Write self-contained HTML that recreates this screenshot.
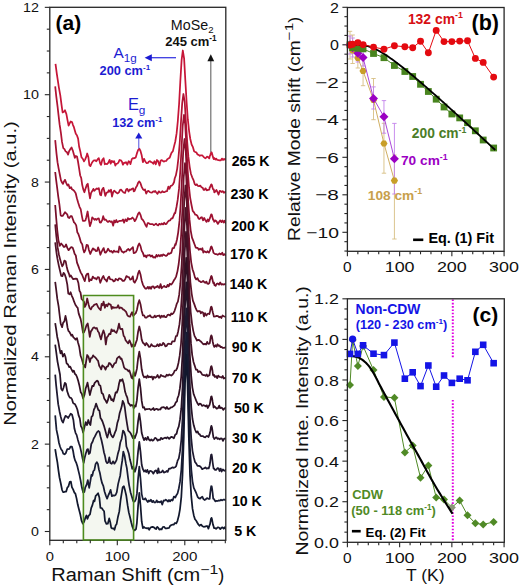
<!DOCTYPE html>
<html><head><meta charset="utf-8"><style>
html,body{margin:0;padding:0;background:#fff;}
svg{display:block;font-family:"Liberation Sans", sans-serif;}
</style></head><body>
<svg width="520" height="586" viewBox="0 0 520 586">
<rect x="0" y="0" width="520" height="586" fill="#fff"/>
<rect x="83.4" y="295.5" width="50.2" height="244.8" fill="rgb(244,247,240)" stroke="none"/>
<clipPath id="clipa"><rect x="49.8" y="7.3" width="176" height="533"/></clipPath>
<g clip-path="url(#clipa)">
<path d="M55.5,63.8 L56.8,73.7 L57.7,79.6 L58.9,87.6 L60.3,95.4 L61.5,104.7 L62.6,112.5 L63.9,111.8 L65.0,110.2 L66.4,114.1 L67.5,120.1 L68.6,125.7 L69.5,123.7 L70.7,121.5 L72.0,122.0 L73.0,125.1 L74.0,127.4 L74.9,130.7 L75.8,133.8 L76.9,135.2 L78.1,138.6 L79.1,146.5 L80.3,151.4 L81.5,157.3 L82.9,159.0 L84.0,161.4 L85.1,159.6 L86.3,156.7 L87.2,153.5 L88.4,157.3 L89.4,165.1 L90.4,166.1 L91.8,163.0 L93.1,161.1 L94.2,160.3 L95.2,160.3 L96.3,161.2 L97.7,159.2 L98.8,158.1 L100.2,163.6 L101.1,164.9 L102.3,159.7 L103.6,158.2 L104.8,164.3 L105.8,163.7 L107.0,164.2 L108.4,162.7 L109.6,159.8 L110.7,163.7 L111.8,160.8 L113.1,162.2 L114.1,161.1 L115.3,165.6 L116.3,163.8 L117.6,163.5 L118.6,162.2 L119.5,160.0 L120.9,160.4 L121.9,161.5 L122.9,164.7 L124.1,162.7 L125.1,163.0 L126.0,162.1 L127.3,164.6 L128.6,161.2 L129.6,162.0 L130.5,164.1 L131.8,159.1 L132.9,158.1 L133.7,158.3 L134.9,157.9 L135.7,157.4 L136.9,153.4 L138.1,150.0 L139.3,148.6 L140.5,151.0 L141.7,155.3 L142.9,162.1 L144.1,158.8 L145.3,161.5 L146.7,163.2 L147.9,163.0 L148.9,161.5 L150.0,161.2 L151.1,162.1 L152.2,162.5 L153.3,163.8 L154.5,161.2 L155.8,164.3 L157.0,160.0 L158.1,161.1 L159.5,165.5 L160.7,160.5 L161.8,160.1 L162.9,161.0 L164.1,161.6 L165.2,161.0 L166.2,160.9 L167.3,159.3 L168.3,158.6 L169.7,157.8 L170.6,155.1 L171.6,152.7 L172.9,151.1 L174.1,146.1 L175.3,141.5 L176.6,133.4 L177.8,121.3 L179.1,103.9 L180.3,81.7 L181.6,60.1 L182.8,50.5 L184.1,58.4 L185.3,79.9 L186.6,102.0 L187.8,119.2 L189.1,131.1 L190.3,139.0 L191.6,144.5 L192.8,146.8 L194.1,151.2 L195.4,152.1 L196.4,152.3 L197.4,154.4 L198.6,154.8 L199.8,155.8 L200.8,155.4 L202.2,155.3 L203.5,156.8 L204.5,157.7 L205.6,158.3 L206.9,156.7 L208.1,157.1 L209.3,158.4 L209.8,156.0 L210.3,155.2 L210.8,153.3 L211.3,152.2 L211.8,152.7 L212.3,154.5 L212.8,156.6 L213.3,158.2 L213.8,159.2 L214.3,158.0 L215.4,159.6 L216.3,158.7 L217.3,160.0 L218.7,160.1 L219.6,160.4 L220.9,160.3 L222.0,158.6 L223.0,160.0 L224.1,158.9 L225.0,159.7 L225.9,158.6" fill="none" stroke="rgb(198,22,56)" stroke-width="1.75" stroke-linejoin="round"/>
<path d="M55.2,86.4 L56.3,96.7 L57.6,106.8 L58.5,114.9 L59.6,124.4 L60.9,132.9 L62.0,141.9 L63.3,148.1 L64.5,149.1 L65.6,151.5 L66.7,151.8 L68.1,154.6 L69.1,151.3 L70.5,148.9 L71.6,147.5 L72.8,150.6 L73.9,154.4 L74.8,157.9 L75.8,156.0 L77.0,156.5 L78.0,161.5 L79.1,168.3 L80.2,175.5 L81.2,177.8 L82.2,184.8 L83.2,189.1 L84.4,192.3 L85.7,188.1 L86.9,184.6 L87.8,183.8 L88.8,191.2 L90.0,198.3 L91.1,192.9 L92.1,191.3 L93.4,188.8 L94.3,190.8 L95.6,189.5 L96.9,188.4 L97.9,189.0 L98.8,188.2 L100.1,194.7 L101.1,195.3 L102.0,189.8 L103.4,187.8 L104.3,191.2 L105.3,195.8 L106.6,192.6 L107.7,192.5 L108.9,190.2 L109.8,191.7 L111.0,189.7 L112.0,196.6 L113.2,192.0 L114.3,190.6 L115.3,191.8 L116.6,192.7 L117.7,193.4 L118.9,192.4 L120.1,189.9 L121.2,189.7 L122.6,191.6 L123.9,192.7 L125.0,193.0 L126.3,189.3 L127.3,188.9 L128.5,191.5 L129.9,189.4 L130.8,189.9 L131.9,188.9 L133.2,188.4 L133.7,191.4 L134.6,191.0 L135.9,187.5 L136.9,186.1 L138.1,182.9 L139.3,181.4 L140.5,183.3 L141.7,186.9 L142.9,189.2 L144.1,190.1 L145.0,189.4 L146.2,193.6 L147.4,191.3 L148.5,190.9 L149.6,192.0 L150.7,192.5 L151.9,192.6 L153.3,191.3 L154.3,191.8 L155.2,191.0 L156.3,192.5 L157.5,193.8 L158.9,191.3 L160.3,192.7 L161.3,192.5 L162.3,191.2 L163.3,192.1 L164.7,192.1 L165.7,191.4 L167.0,191.2 L168.4,186.6 L169.4,188.8 L170.7,185.8 L171.7,185.7 L172.9,184.5 L174.1,182.0 L174.7,178.5 L175.9,175.3 L177.2,168.6 L178.4,158.4 L179.7,143.3 L180.9,123.3 L182.2,103.1 L183.4,94.0 L184.7,101.7 L185.9,121.8 L187.2,141.8 L188.4,156.9 L189.7,167.1 L190.9,173.7 L192.2,177.3 L193.4,179.8 L194.7,184.1 L195.8,185.2 L196.8,184.3 L197.8,185.9 L199.1,186.1 L200.4,185.6 L201.5,187.4 L202.6,187.5 L203.5,189.8 L204.6,189.8 L205.5,188.3 L206.7,190.3 L208.1,189.9 L209.3,189.7 L209.8,187.0 L210.3,186.9 L210.8,185.2 L211.3,184.3 L211.8,184.8 L212.3,186.6 L212.8,188.6 L213.3,189.5 L213.8,189.4 L214.3,192.4 L215.3,191.5 L216.4,190.0 L217.4,191.8 L218.6,194.6 L219.8,190.8 L220.8,191.3 L221.8,192.0 L222.7,191.1 L223.9,192.8 L225.1,191.9 L225.9,192.1" fill="none" stroke="rgb(176,20,52)" stroke-width="1.75" stroke-linejoin="round"/>
<path d="M55.2,140.2 L56.5,153.6 L57.5,162.2 L58.5,167.9 L59.9,175.0 L60.9,180.2 L62.0,182.5 L63.0,183.9 L64.0,181.4 L65.0,179.8 L66.3,183.1 L67.4,185.5 L68.5,184.5 L69.7,188.2 L71.1,187.2 L72.0,189.3 L73.2,190.0 L74.4,191.1 L75.7,193.2 L76.9,198.3 L78.2,202.8 L79.6,207.1 L80.7,209.2 L82.0,216.6 L82.9,220.9 L84.3,220.8 L85.4,220.5 L86.3,217.2 L87.6,211.5 L88.7,219.0 L89.9,226.2 L91.2,222.4 L92.2,217.3 L93.4,218.5 L94.5,219.8 L95.4,218.9 L96.5,219.8 L97.7,218.5 L98.8,218.4 L99.9,222.4 L100.9,222.6 L102.2,220.2 L103.2,216.2 L104.4,219.8 L105.7,219.5 L107.0,221.1 L107.9,222.0 L109.3,220.9 L110.5,221.8 L111.9,221.4 L113.2,225.7 L114.2,220.5 L115.2,222.4 L116.3,220.0 L117.2,222.3 L118.4,221.6 L119.5,220.8 L120.8,220.8 L122.1,220.6 L123.0,219.4 L124.1,222.7 L125.4,219.3 L126.8,221.2 L127.9,218.1 L128.9,219.6 L130.0,218.8 L131.1,218.8 L132.4,217.5 L133.7,218.8 L134.7,221.2 L135.9,219.5 L136.9,217.0 L138.1,213.9 L139.3,212.4 L140.5,214.8 L141.7,218.9 L142.9,220.0 L144.1,221.9 L145.2,224.5 L146.6,226.9 L147.6,223.1 L148.7,223.1 L150.0,224.1 L151.4,224.1 L152.7,224.1 L153.8,225.1 L154.7,224.7 L156.0,223.6 L157.2,225.0 L158.2,225.4 L159.3,223.8 L160.7,224.6 L161.7,223.5 L163.1,224.4 L164.2,222.7 L165.4,224.1 L166.5,223.8 L167.9,221.6 L169.2,220.5 L170.2,220.3 L171.4,218.4 L172.6,218.3 L173.7,215.4 L174.7,212.8 L175.2,213.2 L176.5,207.0 L177.7,199.9 L179.0,188.9 L180.2,172.2 L181.5,149.4 L182.7,125.8 L184.0,114.8 L185.2,124.4 L186.5,147.9 L187.7,170.6 L189.0,187.2 L190.2,198.0 L191.5,205.0 L192.7,210.9 L194.0,212.4 L195.3,214.7 L196.4,214.8 L197.4,215.8 L198.6,218.6 L199.6,219.0 L200.8,217.6 L201.8,217.2 L203.1,220.3 L204.2,218.0 L205.2,219.9 L206.6,221.9 L207.7,219.4 L208.7,221.3 L209.7,218.7 L210.2,217.6 L210.7,215.7 L211.2,214.4 L211.7,214.6 L212.2,216.3 L212.7,218.4 L213.2,219.9 L213.7,220.1 L214.2,221.8 L215.4,220.4 L216.6,221.5 L217.8,223.9 L219.1,221.9 L220.3,220.4 L221.3,222.2 L222.4,220.4 L223.6,222.5 L224.6,220.7 L225.6,223.0 L225.9,222.4" fill="none" stroke="rgb(160,18,50)" stroke-width="1.75" stroke-linejoin="round"/>
<path d="M55.2,172.0 L56.1,179.6 L57.1,187.4 L58.3,196.8 L59.4,204.4 L60.7,215.5 L61.8,216.0 L62.8,215.8 L63.9,214.1 L65.0,212.2 L66.2,213.4 L67.2,214.3 L68.2,217.5 L69.3,218.1 L70.7,216.0 L71.7,216.0 L72.8,219.0 L74.0,222.4 L74.9,223.1 L76.2,225.4 L77.3,232.2 L78.3,233.9 L79.5,237.2 L80.9,242.3 L82.2,244.2 L83.1,248.9 L84.2,252.4 L85.3,250.4 L86.6,244.9 L87.9,245.4 L88.9,250.0 L90.3,254.0 L91.5,251.1 L92.9,248.3 L93.9,249.6 L94.8,249.3 L95.8,251.1 L97.0,250.9 L98.1,247.4 L99.3,250.5 L100.4,254.8 L101.4,252.2 L102.6,249.8 L103.7,248.1 L104.8,252.3 L105.7,252.6 L106.9,251.2 L108.1,248.7 L109.1,250.2 L110.1,251.6 L111.3,250.9 L112.6,252.7 L113.9,250.6 L114.8,251.7 L116.1,251.7 L117.2,251.3 L118.4,252.4 L119.4,246.5 L120.4,248.1 L121.7,251.4 L122.7,251.9 L123.6,252.7 L124.6,251.6 L126.0,251.4 L127.2,249.7 L128.4,248.9 L129.5,250.6 L130.9,249.1 L131.9,248.2 L132.9,247.2 L133.7,253.2 L135.1,252.6 L135.7,252.3 L136.9,250.1 L138.1,245.7 L139.3,243.5 L140.5,246.1 L141.7,250.9 L142.9,252.9 L144.1,256.4 L145.2,255.5 L146.3,257.4 L147.2,255.3 L148.6,255.4 L149.7,255.0 L150.8,256.5 L152.1,255.5 L153.3,257.5 L154.3,257.1 L155.3,257.7 L156.5,254.9 L157.4,256.5 L158.7,255.0 L159.8,256.3 L161.1,254.9 L162.0,256.0 L163.3,254.4 L164.7,255.3 L166.0,255.9 L167.1,255.2 L168.3,253.3 L169.2,253.9 L170.3,253.2 L171.3,252.9 L172.6,248.0 L174.0,248.0 L175.4,243.8 L175.7,244.8 L177.0,239.5 L178.2,232.3 L179.5,220.9 L180.7,203.3 L182.0,178.4 L183.2,151.6 L184.5,139.0 L185.7,150.4 L187.0,177.0 L188.2,201.8 L189.5,219.4 L190.7,230.6 L192.0,237.6 L193.2,240.6 L194.5,244.2 L195.8,247.6 L196.7,247.9 L197.7,247.8 L198.8,249.8 L200.1,248.7 L201.4,249.8 L202.4,248.2 L203.3,252.6 L204.3,251.2 L205.7,252.1 L206.6,252.4 L207.5,251.3 L208.9,252.6 L209.4,251.5 L209.9,250.8 L210.4,248.9 L210.9,247.1 L211.4,246.4 L211.9,247.3 L212.4,249.3 L212.9,250.1 L213.4,252.6 L213.9,253.1 L215.2,254.1 L216.6,254.2 L217.7,254.8 L218.6,254.3 L219.5,253.5 L220.9,254.4 L222.3,252.7 L223.3,255.2 L224.4,254.1 L225.4,255.0 L225.9,254.2" fill="none" stroke="rgb(135,15,45)" stroke-width="1.75" stroke-linejoin="round"/>
<path d="M55.2,205.0 L56.3,219.2 L57.3,230.6 L58.4,240.1 L59.8,245.9 L61.2,243.5 L62.5,245.0 L63.8,246.9 L64.8,246.9 L66.1,244.5 L67.3,247.9 L68.6,250.2 L70.0,248.4 L71.2,247.2 L72.6,247.6 L73.6,250.2 L74.6,253.8 L75.8,255.5 L77.0,262.7 L78.3,265.9 L79.4,269.0 L80.8,272.6 L82.1,274.7 L83.5,278.3 L84.8,281.1 L86.0,275.5 L87.2,273.8 L88.2,273.6 L89.2,281.3 L90.3,279.4 L91.5,280.2 L92.8,276.6 L94.2,278.3 L95.2,278.2 L96.5,279.4 L97.7,277.1 L98.9,277.3 L100.3,282.8 L101.4,280.0 L102.4,277.5 L103.4,276.0 L104.6,279.1 L105.8,280.0 L106.8,281.5 L107.7,278.4 L109.1,276.6 L110.1,279.2 L111.3,279.5 L112.3,279.6 L113.6,281.4 L114.8,280.9 L115.7,278.9 L116.6,279.4 L117.9,280.4 L119.0,278.3 L120.0,278.6 L121.3,279.1 L122.7,280.9 L123.9,280.9 L125.2,279.2 L126.4,276.1 L127.6,276.8 L128.9,277.2 L130.2,279.7 L131.6,278.9 L132.8,276.4 L133.7,281.7 L134.8,282.7 L136.1,280.2 L136.9,278.6 L138.1,273.4 L139.3,270.7 L140.5,274.4 L141.7,280.7 L142.9,284.6 L144.1,286.9 L145.5,288.7 L146.6,288.6 L147.9,286.8 L148.8,288.7 L149.9,287.0 L151.0,288.8 L152.0,286.7 L153.3,286.4 L154.5,288.4 L155.4,287.0 L156.3,287.0 L157.6,285.9 L158.5,287.5 L159.5,287.8 L160.6,284.1 L161.7,288.3 L163.0,286.8 L164.2,285.8 L165.1,286.8 L166.5,287.1 L167.6,284.8 L168.7,286.4 L169.9,283.7 L171.1,284.6 L172.1,283.7 L173.1,281.8 L174.1,280.0 L175.2,278.4 L176.2,276.3 L177.5,271.1 L178.7,264.0 L180.0,252.5 L181.2,234.1 L182.5,207.3 L183.7,177.5 L185.0,163.1 L186.2,176.4 L187.5,206.1 L188.7,232.8 L190.0,251.0 L191.2,262.3 L192.5,269.2 L193.7,272.6 L195.0,277.6 L196.2,279.4 L197.5,278.1 L198.6,280.7 L199.7,281.1 L201.1,282.2 L202.1,281.7 L203.1,281.0 L204.2,282.0 L205.2,282.8 L206.4,281.6 L207.3,283.6 L208.4,283.9 L209.4,282.8 L209.9,280.0 L210.4,279.1 L210.9,276.9 L211.4,276.0 L211.9,276.9 L212.4,279.2 L212.9,281.5 L213.4,283.2 L213.9,282.5 L214.4,285.0 L215.6,285.9 L216.6,283.8 L217.6,283.5 L219.0,284.7 L220.2,282.5 L221.4,284.7 L222.6,284.1 L224.0,284.6 L225.0,283.9 L225.9,284.7" fill="none" stroke="rgb(115,15,42)" stroke-width="1.75" stroke-linejoin="round"/>
<path d="M55.2,224.4 L56.4,237.0 L57.7,247.7 L58.9,254.5 L60.3,260.1 L61.3,263.5 L62.2,266.3 L63.3,264.5 L64.3,260.6 L65.6,261.2 L66.6,266.2 L67.7,270.7 L68.9,273.6 L69.8,276.7 L70.8,275.4 L72.2,277.7 L73.2,279.2 L74.5,278.9 L75.9,278.6 L77.0,278.8 L78.4,283.1 L79.5,290.9 L80.5,292.5 L81.6,299.0 L82.9,300.3 L84.0,301.7 L84.9,307.0 L86.1,304.3 L87.2,298.5 L88.6,304.5 L89.6,308.0 L90.9,309.4 L92.1,306.8 L93.1,306.3 L94.4,304.6 L95.6,304.3 L96.6,303.8 L97.9,306.7 L99.3,308.7 L100.7,310.1 L101.6,303.9 L102.6,305.2 L103.6,301.6 L104.9,307.8 L106.1,304.6 L107.3,306.3 L108.5,303.5 L109.8,304.4 L110.8,304.9 L111.7,308.9 L112.7,306.9 L113.8,307.9 L114.8,307.5 L115.9,307.7 L117.0,307.7 L118.2,305.2 L119.4,308.4 L120.6,307.5 L121.7,307.9 L123.0,309.4 L124.1,309.9 L125.1,310.8 L126.1,311.9 L127.5,315.5 L128.7,316.4 L130.0,316.6 L131.2,313.9 L132.1,312.2 L133.2,315.9 L133.7,315.3 L134.9,314.0 L135.7,313.4 L136.9,310.0 L138.1,303.8 L139.3,300.2 L140.5,304.2 L141.7,310.9 L142.9,315.4 L144.1,315.4 L145.2,317.6 L146.5,317.7 L147.8,316.2 L148.7,316.3 L150.1,315.3 L151.2,317.1 L152.4,317.4 L153.7,317.3 L154.8,315.6 L155.8,317.2 L157.2,315.9 L158.2,315.9 L159.4,315.5 L160.5,317.8 L161.7,315.7 L163.0,317.0 L163.9,315.6 L165.2,317.2 L166.3,317.1 L167.6,314.9 L168.9,314.7 L170.2,315.6 L171.2,313.4 L172.3,314.2 L173.4,313.2 L174.6,310.8 L175.9,306.8 L176.7,303.9 L177.9,301.7 L179.2,294.7 L180.4,283.2 L181.7,264.3 L182.9,235.5 L184.2,202.1 L185.4,185.5 L186.7,201.3 L187.9,234.6 L189.2,263.4 L190.4,282.3 L191.7,293.8 L192.9,300.7 L194.2,303.9 L195.4,307.4 L196.4,309.7 L197.6,311.6 L198.9,311.0 L199.9,311.1 L200.9,313.3 L201.9,312.0 L203.1,312.8 L204.0,316.4 L205.0,313.2 L206.4,315.6 L207.6,313.8 L208.9,313.5 L209.4,314.1 L209.9,312.1 L210.4,309.7 L210.9,307.3 L211.4,306.6 L211.9,307.9 L212.4,310.5 L212.9,312.7 L213.4,314.5 L213.9,316.6 L215.3,316.5 L216.6,315.8 L218.0,316.1 L219.3,317.4 L220.3,316.6 L221.4,318.0 L222.5,315.5 L223.8,316.2 L225.0,316.7 L225.9,316.8" fill="none" stroke="rgb(92,18,40)" stroke-width="1.75" stroke-linejoin="round"/>
<path d="M55.2,242.4 L56.5,252.9 L57.4,258.7 L58.8,265.6 L59.9,270.2 L61.2,275.9 L62.4,276.1 L63.6,272.8 L64.7,274.3 L66.0,278.1 L67.3,284.7 L68.3,293.6 L69.6,294.3 L70.6,292.2 L71.8,295.8 L73.0,298.4 L74.1,301.7 L75.5,305.0 L76.6,306.6 L77.7,307.8 L78.7,313.6 L79.7,316.4 L80.6,318.9 L81.6,323.8 L83.0,332.6 L83.9,332.4 L85.2,329.3 L86.5,325.2 L87.7,323.5 L88.7,329.5 L89.8,336.9 L90.9,331.4 L91.9,330.1 L93.0,328.0 L94.3,327.3 L95.7,328.5 L96.8,328.0 L98.0,331.5 L98.9,332.5 L100.0,336.4 L101.0,339.4 L102.3,333.8 L103.4,330.4 L104.7,334.3 L105.8,344.5 L106.9,337.3 L108.0,336.2 L109.3,333.6 L110.5,334.1 L111.5,329.3 L112.7,331.2 L114.0,330.2 L115.0,331.9 L116.4,332.9 L117.7,329.5 L119.0,323.7 L120.1,328.6 L121.1,329.1 L122.3,328.8 L123.6,335.7 L124.6,337.1 L125.6,340.2 L126.8,341.7 L128.2,343.4 L129.5,340.4 L130.8,343.4 L131.8,346.7 L133.2,344.2 L133.7,345.1 L134.7,346.2 L135.8,342.9 L136.9,340.0 L138.1,331.7 L139.3,326.5 L140.5,331.4 L141.7,339.6 L142.9,342.8 L144.1,343.7 L145.3,345.4 L146.3,343.0 L147.6,344.5 L148.9,346.9 L150.2,346.6 L151.4,344.2 L152.6,345.8 L153.8,346.1 L154.8,346.5 L156.2,346.2 L157.5,344.3 L158.7,346.2 L160.0,343.9 L160.9,345.4 L162.1,345.0 L163.1,342.9 L164.3,344.0 L165.4,346.3 L166.7,345.9 L167.6,344.1 L168.6,343.7 L169.9,344.0 L171.2,344.1 L172.3,341.3 L173.3,341.4 L174.6,341.4 L175.9,336.1 L177.0,336.0 L178.2,331.2 L179.5,324.2 L180.7,312.6 L182.0,293.1 L183.2,262.7 L184.5,226.3 L185.7,207.9 L187.0,225.6 L188.2,262.0 L189.5,292.4 L190.7,312.0 L192.0,323.6 L193.2,330.6 L194.5,335.9 L195.7,338.0 L197.0,340.5 L198.3,339.9 L199.3,340.2 L200.5,341.3 L201.4,342.0 L202.8,343.7 L203.7,344.4 L205.0,343.8 L206.1,344.5 L207.2,341.8 L208.2,343.8 L209.3,343.6 L209.8,343.1 L210.3,339.4 L210.8,336.7 L211.3,335.3 L211.8,336.2 L212.3,339.0 L212.8,342.0 L213.3,344.3 L213.8,345.9 L214.3,346.9 L215.6,345.2 L216.6,346.7 L217.5,344.2 L218.5,345.9 L219.6,345.5 L220.6,347.2 L221.7,346.9 L222.6,347.8 L223.8,347.9 L225.1,347.6 L225.9,346.7" fill="none" stroke="rgb(78,18,40)" stroke-width="1.75" stroke-linejoin="round"/>
<path d="M55.2,281.9 L56.1,288.8 L57.3,298.9 L58.6,306.3 L59.8,316.5 L60.7,323.6 L62.1,327.2 L63.1,322.9 L64.4,321.2 L65.5,315.8 L66.5,320.7 L67.5,327.5 L68.4,330.8 L69.4,331.8 L70.3,333.5 L71.3,335.7 L72.2,334.6 L73.4,337.3 L74.6,338.4 L75.6,339.6 L77.0,338.2 L78.0,342.5 L79.3,347.1 L80.6,355.8 L81.8,359.0 L83.2,364.1 L84.1,365.0 L85.2,367.4 L86.2,361.0 L87.2,355.0 L88.6,357.1 L89.9,362.0 L90.8,358.4 L92.0,357.8 L93.1,355.3 L94.0,356.5 L94.9,357.0 L96.1,358.3 L97.1,359.7 L98.1,360.9 L99.2,365.8 L100.2,367.4 L101.2,369.4 L102.3,365.3 L103.2,366.2 L104.4,367.2 L105.5,369.6 L106.7,366.7 L107.9,366.4 L109.1,363.0 L110.0,363.4 L111.2,364.9 L112.5,367.4 L113.8,364.6 L114.8,363.1 L115.9,362.9 L117.1,358.3 L118.4,357.1 L119.5,356.5 L120.6,358.9 L121.5,358.4 L122.8,362.4 L124.0,367.2 L125.1,368.8 L126.4,369.4 L127.4,369.8 L128.4,371.4 L129.4,370.4 L130.6,374.2 L131.5,377.5 L132.6,378.5 L133.7,371.9 L135.0,375.9 L135.7,373.8 L136.9,368.9 L138.1,358.4 L139.3,351.7 L140.5,358.6 L141.7,369.3 L142.9,374.9 L144.1,377.3 L145.4,376.6 L146.5,377.9 L147.5,375.5 L148.7,377.3 L149.6,376.6 L150.6,377.1 L151.9,376.5 L152.9,379.5 L153.8,376.8 L155.2,377.8 L156.3,377.1 L157.6,375.0 L158.7,377.7 L159.6,377.7 L160.9,375.0 L162.0,375.9 L163.1,376.1 L164.4,376.7 L165.5,376.9 L166.7,374.7 L168.0,375.7 L169.3,374.5 L170.3,375.1 L171.3,375.5 L172.6,374.5 L173.7,373.0 L174.7,370.5 L176.0,370.4 L177.2,368.0 L178.5,362.7 L179.7,355.7 L181.0,344.0 L182.2,324.0 L183.5,292.0 L184.7,252.5 L186.0,231.9 L187.2,251.9 L188.5,291.3 L189.7,323.4 L191.0,343.4 L192.2,355.1 L193.5,362.0 L194.7,365.6 L196.0,369.7 L197.2,369.7 L198.2,372.1 L199.5,371.3 L200.8,372.3 L202.2,374.6 L203.2,375.0 L204.5,375.0 L205.6,375.9 L206.7,374.4 L207.7,376.4 L209.0,375.1 L209.5,375.3 L210.0,371.9 L210.5,369.1 L211.0,366.7 L211.5,366.2 L212.0,368.0 L212.5,371.0 L213.0,375.1 L213.5,375.5 L214.0,374.8 L214.9,377.0 L216.3,376.1 L217.2,378.1 L218.2,375.6 L219.4,376.8 L220.6,377.0 L221.9,377.7 L222.8,376.0 L223.8,378.5 L225.2,377.9 L225.9,377.5" fill="none" stroke="rgb(65,18,38)" stroke-width="1.75" stroke-linejoin="round"/>
<path d="M55.2,323.1 L56.1,328.8 L57.2,336.7 L58.2,341.2 L59.2,346.8 L60.5,353.4 L61.6,350.8 L62.9,356.6 L64.3,353.9 L65.4,356.7 L66.6,363.3 L68.0,364.5 L69.2,367.1 L70.2,366.6 L71.4,369.1 L72.8,371.8 L73.8,370.6 L74.9,373.9 L76.1,375.0 L77.0,377.0 L78.2,380.8 L79.5,386.0 L80.7,392.2 L81.8,393.7 L83.1,398.4 L84.5,394.7 L85.7,388.2 L86.6,385.9 L87.5,382.7 L88.8,389.6 L89.9,395.0 L91.0,390.4 L92.3,385.8 L93.5,386.1 L94.7,382.9 L96.1,381.5 L97.1,380.6 L98.1,381.5 L99.1,384.9 L100.4,385.8 L101.7,393.0 L103.1,394.2 L104.2,398.4 L105.6,400.5 L106.8,402.9 L107.9,400.2 L109.3,394.8 L110.3,396.6 L111.3,400.1 L112.4,399.3 L113.4,401.3 L114.4,397.5 L115.7,392.3 L116.8,392.6 L118.0,389.4 L119.0,383.8 L120.1,379.8 L121.1,380.8 L122.4,379.2 L123.8,384.1 L125.1,391.8 L126.1,394.8 L127.3,397.7 L128.3,402.8 L129.2,403.8 L130.5,405.8 L131.7,405.0 L133.0,405.6 L133.7,408.3 L134.9,405.5 L135.7,406.5 L136.9,400.2 L138.1,387.6 L139.3,379.2 L140.5,388.0 L141.7,400.9 L142.9,407.7 L144.1,407.2 L145.1,409.8 L146.1,409.2 L147.2,409.2 L148.3,409.0 L149.5,408.8 L150.8,409.9 L152.1,409.3 L153.4,408.0 L154.3,410.2 L155.3,409.3 L156.6,408.8 L158.0,409.8 L159.3,409.4 L160.4,409.5 L161.3,407.7 L162.3,407.4 L163.7,407.2 L164.7,407.6 L165.8,408.9 L166.9,406.9 L168.2,409.0 L169.6,408.6 L170.8,407.4 L171.9,407.4 L173.2,406.4 L174.5,405.4 L175.7,402.5 L177.0,401.4 L177.4,398.5 L178.7,395.2 L179.9,388.4 L181.2,376.8 L182.4,356.4 L183.7,323.1 L184.9,280.5 L186.2,257.8 L187.4,279.9 L188.7,322.4 L189.9,355.7 L191.2,376.0 L192.4,387.6 L193.7,394.3 L194.9,397.3 L196.2,400.6 L197.3,403.0 L198.6,405.0 L199.6,403.7 L200.8,403.9 L202.0,405.9 L203.3,405.2 L204.5,405.5 L205.6,406.4 L206.8,405.3 L207.7,408.0 L209.1,405.5 L209.6,404.9 L210.1,402.6 L210.6,399.4 L211.1,396.8 L211.6,396.4 L212.1,398.4 L212.6,401.7 L213.1,404.4 L213.6,407.5 L214.1,406.0 L215.3,407.2 L216.6,408.6 L218.0,408.2 L219.2,405.6 L220.1,408.2 L221.1,407.6 L222.2,408.1 L223.2,409.9 L224.5,408.4 L225.6,407.8 L225.9,408.2" fill="none" stroke="rgb(48,16,35)" stroke-width="1.75" stroke-linejoin="round"/>
<path d="M55.2,344.6 L56.1,351.1 L57.4,361.0 L58.7,367.9 L60.0,374.5 L61.2,388.7 L62.4,390.6 L63.5,387.7 L64.9,382.8 L65.9,383.8 L67.2,391.3 L68.6,395.4 L69.8,397.6 L70.9,397.8 L72.0,399.2 L73.0,402.8 L74.2,403.8 L75.1,404.3 L76.3,406.8 L77.4,409.7 L78.7,415.7 L79.8,418.4 L80.9,426.1 L82.0,428.0 L83.1,432.6 L84.3,427.9 L85.7,422.1 L87.0,425.1 L88.3,420.0 L89.4,423.5 L90.4,425.1 L91.5,416.9 L92.7,415.6 L93.9,409.7 L94.9,407.6 L96.1,403.6 L97.2,406.8 L98.3,409.9 L99.4,410.6 L100.5,418.1 L101.5,419.5 L102.5,421.5 L103.9,425.6 L105.1,429.8 L106.3,434.4 L107.3,437.6 L108.3,433.7 L109.5,428.3 L110.6,433.8 L111.8,436.2 L112.9,437.4 L113.9,435.5 L114.9,432.6 L116.1,429.9 L117.4,422.7 L118.6,418.9 L119.6,413.3 L120.5,410.4 L121.7,406.6 L122.7,400.8 L123.9,403.4 L124.8,407.5 L125.8,415.6 L127.1,424.2 L128.2,430.6 L129.5,431.8 L130.6,433.2 L132.0,436.1 L132.9,438.2 L133.7,435.5 L134.8,438.3 L136.1,434.5 L136.9,432.1 L138.1,421.2 L139.3,413.5 L140.5,421.7 L141.7,433.0 L142.9,437.1 L144.1,440.2 L145.3,437.9 L146.6,439.9 L147.8,436.8 L148.9,439.5 L150.1,440.6 L151.3,439.5 L152.5,440.6 L153.6,440.1 L155.0,437.9 L156.3,438.5 L157.7,440.7 L158.9,439.6 L160.0,440.0 L161.0,437.8 L162.3,439.2 L163.4,438.3 L164.3,438.0 L165.3,437.6 L166.3,438.4 L167.3,437.2 L168.3,437.8 L169.2,438.9 L170.4,437.6 L171.6,436.8 L172.9,437.5 L173.9,438.3 L175.2,434.8 L176.6,433.8 L177.5,429.7 L178.8,426.4 L180.0,419.7 L181.3,408.2 L182.5,387.7 L183.8,353.1 L185.0,307.5 L186.3,282.4 L187.5,307.0 L188.8,352.6 L190.0,387.1 L191.3,407.5 L192.5,419.0 L193.8,425.6 L195.0,429.5 L196.3,432.5 L197.6,431.4 L198.6,433.9 L199.5,434.1 L200.7,435.9 L201.7,436.2 L203.1,436.2 L204.5,437.2 L205.4,437.3 L206.5,436.0 L207.6,436.2 L208.5,437.0 L209.9,433.1 L210.4,430.7 L210.9,427.4 L211.4,425.9 L211.9,427.2 L212.4,430.5 L212.9,434.0 L213.4,437.5 L213.9,438.0 L214.4,439.0 L215.5,437.7 L216.4,437.4 L217.6,438.9 L218.7,438.4 L219.7,439.3 L220.8,438.3 L221.9,438.6 L223.0,440.9 L224.1,438.6 L225.1,438.7 L225.9,438.4" fill="none" stroke="rgb(38,20,40)" stroke-width="1.75" stroke-linejoin="round"/>
<path d="M55.2,374.6 L56.1,384.8 L57.1,394.1 L58.2,404.2 L59.6,411.7 L60.8,417.0 L61.8,420.5 L63.0,422.7 L64.3,418.7 L65.5,415.8 L66.9,416.7 L68.1,418.0 L69.4,415.9 L70.7,413.7 L72.1,414.8 L73.4,420.0 L74.4,428.6 L75.6,433.1 L76.6,434.9 L77.9,439.9 L78.9,443.2 L80.0,446.4 L81.3,452.1 L82.5,458.2 L83.7,462.9 L84.8,457.2 L85.8,453.6 L87.1,449.5 L88.0,449.1 L88.9,454.0 L90.0,452.9 L91.3,444.0 L92.7,441.5 L93.7,438.5 L94.7,436.9 L95.8,434.6 L97.1,432.1 L98.5,431.0 L99.5,432.0 L100.4,436.3 L101.5,440.3 L102.6,445.2 L104.0,452.5 L105.0,456.1 L106.0,461.4 L107.0,463.2 L108.3,462.2 L109.3,457.3 L110.3,463.0 L111.7,463.8 L113.0,461.3 L114.4,463.7 L115.5,462.1 L116.6,459.9 L117.8,454.1 L119.2,449.2 L120.3,442.5 L121.6,439.0 L123.0,430.6 L124.2,432.1 L125.5,436.4 L126.4,446.5 L127.7,449.9 L128.9,453.8 L129.9,459.3 L131.2,464.3 L132.2,468.8 L133.3,466.6 L133.7,468.2 L134.9,471.8 L135.7,469.3 L136.9,464.1 L138.1,451.3 L139.3,441.9 L140.5,451.6 L141.7,464.8 L142.9,469.2 L144.1,471.5 L145.2,470.2 L146.2,472.0 L147.3,469.9 L148.7,473.5 L149.7,471.0 L150.8,470.9 L152.1,471.7 L153.4,473.7 L154.8,471.0 L156.1,470.3 L157.4,473.3 L158.3,468.3 L159.2,472.7 L160.2,472.4 L161.6,472.1 L162.7,470.4 L163.9,472.6 L164.8,472.2 L165.8,471.9 L166.8,470.9 L167.7,471.8 L169.0,468.7 L170.2,468.7 L171.3,468.0 L172.6,467.4 L173.9,467.8 L175.0,467.3 L176.1,466.2 L177.3,461.7 L177.5,460.8 L178.8,458.4 L180.0,451.7 L181.3,440.0 L182.5,419.1 L183.8,383.3 L185.0,335.1 L186.3,308.3 L187.5,334.6 L188.8,382.6 L190.0,418.4 L191.3,439.2 L192.5,450.8 L193.8,457.4 L195.0,462.0 L196.3,463.6 L197.5,465.8 L198.6,465.8 L199.8,466.2 L201.1,467.4 L202.2,469.2 L203.4,468.5 L204.5,468.2 L205.4,467.4 L206.6,468.6 L207.6,468.2 L208.7,468.4 L209.6,465.4 L210.1,462.5 L210.6,458.1 L211.1,454.7 L211.6,454.5 L212.1,457.5 L212.6,462.0 L213.1,465.5 L213.6,468.6 L214.1,468.4 L215.1,469.9 L216.3,469.8 L217.6,468.1 L218.6,468.3 L219.5,471.0 L220.7,468.6 L221.6,471.6 L222.9,469.4 L224.2,470.7 L225.5,470.8 L225.9,469.1" fill="none" stroke="rgb(30,25,48)" stroke-width="1.75" stroke-linejoin="round"/>
<path d="M55.2,415.4 L56.5,429.9 L57.8,436.0 L59.0,443.0 L60.1,446.7 L61.1,449.2 L62.3,450.8 L63.3,453.7 L64.6,454.3 L65.8,453.1 L67.2,449.2 L68.1,449.2 L69.4,448.8 L70.6,446.5 L71.9,446.5 L73.1,451.0 L74.1,457.1 L75.1,460.4 L76.4,463.2 L77.3,466.0 L78.4,470.6 L79.5,475.1 L80.6,480.5 L81.9,487.8 L83.2,492.4 L84.3,492.0 L85.3,487.3 L86.7,484.5 L87.8,480.1 L89.2,487.9 L90.3,481.7 L91.4,474.8 L92.3,475.8 L93.3,471.3 L94.4,470.0 L95.5,464.3 L96.8,462.1 L97.9,463.9 L98.9,469.5 L99.9,473.0 L101.1,479.3 L102.1,483.2 L103.4,486.2 L104.6,491.7 L105.9,495.6 L107.1,498.7 L108.2,495.6 L109.2,493.5 L110.6,489.9 L111.9,496.2 L113.1,495.3 L114.3,495.6 L115.6,495.0 L116.8,492.2 L118.1,484.1 L119.2,479.6 L120.2,475.7 L121.2,467.3 L122.2,460.9 L123.3,451.6 L124.6,456.0 L125.9,463.7 L126.8,467.9 L128.1,478.2 L129.1,485.1 L130.5,492.2 L131.8,496.6 L133.0,500.5 L133.7,501.8 L134.8,501.4 L135.9,499.2 L136.9,493.9 L138.1,478.5 L139.3,466.7 L140.5,478.6 L141.7,494.1 L142.9,499.1 L144.1,499.5 L145.3,498.3 L146.5,500.2 L147.8,502.0 L148.8,500.4 L149.9,501.3 L150.9,499.7 L152.2,502.2 L153.2,500.8 L154.4,502.5 L155.7,502.4 L156.7,500.4 L157.8,502.3 L158.8,501.6 L159.9,502.4 L161.2,501.2 L162.2,504.6 L163.6,500.5 L164.7,500.7 L165.7,499.6 L166.7,500.3 L168.0,501.6 L169.0,499.9 L170.1,501.4 L171.4,499.6 L172.6,500.5 L173.9,496.6 L175.3,497.5 L176.4,495.2 L177.5,493.6 L178.8,488.5 L180.0,481.9 L181.3,470.1 L182.5,448.9 L183.8,411.8 L185.0,361.2 L186.3,332.5 L187.5,360.7 L188.8,411.4 L190.0,448.4 L191.3,469.6 L192.5,481.3 L193.8,487.9 L195.0,490.4 L196.3,493.2 L197.6,496.8 L198.8,498.1 L200.1,498.6 L201.0,497.7 L202.3,496.7 L203.3,498.8 L204.5,500.0 L205.7,499.4 L207.0,498.1 L208.4,498.8 L209.7,498.8 L210.2,493.2 L210.7,489.1 L211.2,486.2 L211.7,486.4 L212.2,489.5 L212.7,493.7 L213.2,498.6 L213.7,498.8 L214.2,499.5 L215.3,501.3 L216.5,500.9 L217.6,501.0 L218.6,500.4 L219.9,500.6 L221.0,499.7 L222.0,500.4 L223.2,499.7 L224.2,499.6 L225.1,499.9 L225.9,500.5" fill="none" stroke="rgb(24,28,52)" stroke-width="1.75" stroke-linejoin="round"/>
<path d="M55.2,449.2 L56.3,456.1 L57.4,462.4 L58.4,470.2 L59.5,477.5 L60.8,483.5 L62.1,490.0 L63.0,492.0 L64.2,492.0 L65.2,491.7 L66.2,491.6 L67.3,487.7 L68.4,486.5 L69.8,481.8 L70.9,481.6 L71.9,487.1 L73.2,489.7 L74.4,492.6 L75.4,493.7 L76.5,498.1 L77.8,504.8 L79.2,510.3 L80.3,514.5 L81.5,520.7 L82.8,523.7 L84.1,521.8 L85.3,518.0 L86.5,515.5 L87.4,518.8 L88.7,515.6 L90.0,514.4 L91.2,508.1 L92.5,504.9 L93.6,500.5 L94.5,501.4 L95.7,495.8 L96.7,494.9 L98.1,493.2 L99.4,497.8 L100.4,507.8 L101.7,508.0 L102.9,509.8 L104.1,511.2 L105.0,520.9 L106.4,523.9 L107.8,523.7 L109.2,518.4 L110.2,521.9 L111.2,527.7 L112.3,528.5 L113.4,528.3 L114.5,529.8 L115.7,525.3 L116.6,524.2 L118.0,516.7 L119.3,511.4 L120.6,500.0 L121.5,494.4 L122.7,487.2 L123.9,486.3 L125.1,490.6 L126.3,495.8 L127.6,505.2 L128.8,512.4 L130.1,517.5 L131.2,522.2 L132.4,526.7 L133.7,529.9 L134.7,530.4 L136.0,529.2 L136.9,522.8 L138.1,505.9 L139.3,492.8 L140.5,505.4 L141.7,521.7 L142.9,528.1 L144.1,527.0 L145.1,528.0 L146.2,528.1 L147.2,528.4 L148.1,527.9 L149.2,529.8 L150.4,527.6 L151.4,527.2 L152.6,526.9 L153.9,527.3 L155.2,528.6 L156.1,529.0 L157.2,526.9 L158.2,527.6 L159.3,529.6 L160.4,529.1 L161.7,529.4 L162.8,527.0 L164.1,526.8 L165.3,528.3 L166.5,528.4 L167.9,528.1 L169.1,528.0 L170.0,526.0 L171.4,525.0 L172.7,524.7 L173.7,524.6 L175.0,523.0 L176.3,523.4 L177.5,520.8 L178.8,515.8 L180.0,509.1 L181.3,497.1 L182.5,475.3 L183.8,437.0 L185.0,384.2 L186.3,354.0 L187.5,383.8 L188.8,436.7 L190.0,474.9 L191.3,496.7 L192.5,508.7 L193.8,515.4 L195.0,519.3 L196.3,520.8 L197.2,522.5 L198.4,524.5 L199.5,525.8 L200.4,524.9 L201.3,524.7 L202.4,526.2 L203.7,526.8 L205.0,526.7 L206.3,526.1 L207.4,526.1 L208.4,528.7 L209.5,525.3 L210.0,524.1 L210.5,521.3 L211.0,518.7 L211.5,517.8 L212.0,519.3 L212.5,522.2 L213.0,524.8 L213.5,526.0 L214.0,528.0 L214.9,528.0 L216.1,528.9 L217.0,528.0 L218.0,527.3 L219.2,527.8 L220.3,529.1 L221.6,527.6 L222.5,527.4 L223.7,528.7 L224.8,527.2 L225.9,529.1 L225.9,529.0" fill="none" stroke="rgb(18,24,45)" stroke-width="1.75" stroke-linejoin="round"/>
</g>
<rect x="49.8" y="7.3" width="176.00" height="533.00" fill="none" stroke="#262626" stroke-width="1.3"/>
<path d="M83.4,540.0 V295.5 H133.6 V540.0 Z" fill="none" stroke="rgb(78,140,30)" stroke-width="1.6"/>
<line x1="44.80" y1="531.50" x2="49.80" y2="531.50" stroke="#262626" stroke-width="1.1"/>
<text x="38.90" y="536.10" font-size="12.60" text-anchor="end" fill="#111" textLength="7.90" lengthAdjust="spacingAndGlyphs">0</text>
<line x1="46.80" y1="509.66" x2="49.80" y2="509.66" stroke="#262626" stroke-width="1.1"/>
<line x1="46.80" y1="487.82" x2="49.80" y2="487.82" stroke="#262626" stroke-width="1.1"/>
<line x1="46.80" y1="465.98" x2="49.80" y2="465.98" stroke="#262626" stroke-width="1.1"/>
<line x1="44.80" y1="444.14" x2="49.80" y2="444.14" stroke="#262626" stroke-width="1.1"/>
<text x="38.90" y="448.74" font-size="12.60" text-anchor="end" fill="#111" textLength="7.90" lengthAdjust="spacingAndGlyphs">2</text>
<line x1="46.80" y1="422.30" x2="49.80" y2="422.30" stroke="#262626" stroke-width="1.1"/>
<line x1="46.80" y1="400.46" x2="49.80" y2="400.46" stroke="#262626" stroke-width="1.1"/>
<line x1="46.80" y1="378.62" x2="49.80" y2="378.62" stroke="#262626" stroke-width="1.1"/>
<line x1="44.80" y1="356.78" x2="49.80" y2="356.78" stroke="#262626" stroke-width="1.1"/>
<text x="38.90" y="361.38" font-size="12.60" text-anchor="end" fill="#111" textLength="7.90" lengthAdjust="spacingAndGlyphs">4</text>
<line x1="46.80" y1="334.94" x2="49.80" y2="334.94" stroke="#262626" stroke-width="1.1"/>
<line x1="46.80" y1="313.10" x2="49.80" y2="313.10" stroke="#262626" stroke-width="1.1"/>
<line x1="46.80" y1="291.26" x2="49.80" y2="291.26" stroke="#262626" stroke-width="1.1"/>
<line x1="44.80" y1="269.42" x2="49.80" y2="269.42" stroke="#262626" stroke-width="1.1"/>
<text x="38.90" y="274.02" font-size="12.60" text-anchor="end" fill="#111" textLength="7.90" lengthAdjust="spacingAndGlyphs">6</text>
<line x1="46.80" y1="247.58" x2="49.80" y2="247.58" stroke="#262626" stroke-width="1.1"/>
<line x1="46.80" y1="225.74" x2="49.80" y2="225.74" stroke="#262626" stroke-width="1.1"/>
<line x1="46.80" y1="203.90" x2="49.80" y2="203.90" stroke="#262626" stroke-width="1.1"/>
<line x1="44.80" y1="182.06" x2="49.80" y2="182.06" stroke="#262626" stroke-width="1.1"/>
<text x="38.90" y="186.66" font-size="12.60" text-anchor="end" fill="#111" textLength="7.90" lengthAdjust="spacingAndGlyphs">8</text>
<line x1="46.80" y1="160.22" x2="49.80" y2="160.22" stroke="#262626" stroke-width="1.1"/>
<line x1="46.80" y1="138.38" x2="49.80" y2="138.38" stroke="#262626" stroke-width="1.1"/>
<line x1="46.80" y1="116.54" x2="49.80" y2="116.54" stroke="#262626" stroke-width="1.1"/>
<line x1="44.80" y1="94.70" x2="49.80" y2="94.70" stroke="#262626" stroke-width="1.1"/>
<text x="38.90" y="99.30" font-size="12.60" text-anchor="end" fill="#111" textLength="15.90" lengthAdjust="spacingAndGlyphs">10</text>
<line x1="46.80" y1="72.86" x2="49.80" y2="72.86" stroke="#262626" stroke-width="1.1"/>
<line x1="46.80" y1="51.02" x2="49.80" y2="51.02" stroke="#262626" stroke-width="1.1"/>
<line x1="46.80" y1="29.18" x2="49.80" y2="29.18" stroke="#262626" stroke-width="1.1"/>
<line x1="44.80" y1="7.34" x2="49.80" y2="7.34" stroke="#262626" stroke-width="1.1"/>
<text x="38.90" y="11.94" font-size="12.60" text-anchor="end" fill="#111" textLength="15.90" lengthAdjust="spacingAndGlyphs">12</text>
<line x1="49.80" y1="540.30" x2="49.80" y2="545.30" stroke="#262626" stroke-width="1.1"/>
<text x="49.80" y="560.70" font-size="13.00" text-anchor="middle" fill="#111" textLength="8.20" lengthAdjust="spacingAndGlyphs">0</text>
<line x1="63.30" y1="540.30" x2="63.30" y2="543.30" stroke="#262626" stroke-width="1.1"/>
<line x1="76.80" y1="540.30" x2="76.80" y2="543.30" stroke="#262626" stroke-width="1.1"/>
<line x1="90.30" y1="540.30" x2="90.30" y2="543.30" stroke="#262626" stroke-width="1.1"/>
<line x1="103.80" y1="540.30" x2="103.80" y2="543.30" stroke="#262626" stroke-width="1.1"/>
<line x1="117.30" y1="540.30" x2="117.30" y2="545.30" stroke="#262626" stroke-width="1.1"/>
<text x="117.30" y="560.70" font-size="13.00" text-anchor="middle" fill="#111" textLength="25.20" lengthAdjust="spacingAndGlyphs">100</text>
<line x1="130.80" y1="540.30" x2="130.80" y2="543.30" stroke="#262626" stroke-width="1.1"/>
<line x1="144.30" y1="540.30" x2="144.30" y2="543.30" stroke="#262626" stroke-width="1.1"/>
<line x1="157.80" y1="540.30" x2="157.80" y2="543.30" stroke="#262626" stroke-width="1.1"/>
<line x1="171.30" y1="540.30" x2="171.30" y2="543.30" stroke="#262626" stroke-width="1.1"/>
<line x1="184.80" y1="540.30" x2="184.80" y2="545.30" stroke="#262626" stroke-width="1.1"/>
<text x="184.80" y="560.70" font-size="13.00" text-anchor="middle" fill="#111" textLength="25.20" lengthAdjust="spacingAndGlyphs">200</text>
<line x1="198.30" y1="540.30" x2="198.30" y2="543.30" stroke="#262626" stroke-width="1.1"/>
<line x1="211.80" y1="540.30" x2="211.80" y2="543.30" stroke="#262626" stroke-width="1.1"/>
<line x1="225.30" y1="540.30" x2="225.30" y2="543.30" stroke="#262626" stroke-width="1.1"/>
<text transform="translate(15.6,425.8) rotate(-90)" x="0" y="0" font-size="17.4" fill="#111" textLength="304.5" lengthAdjust="spacingAndGlyphs">Normalized Raman Intensity (a.u.)</text>
<text x="51.3" y="581.0" font-size="18" fill="#111"><tspan textLength="149.0" lengthAdjust="spacingAndGlyphs">Raman Shift (cm</tspan><tspan font-size="12.4" dy="-7.2" textLength="18" lengthAdjust="spacingAndGlyphs">−1</tspan><tspan dy="7.2">)</tspan></text>
<text x="55.60" y="30.20" font-size="21.00" text-anchor="start" font-weight="bold" fill="#000">(a)</text>
<text x="170.8" y="29.6" font-size="14.3" fill="#111">MoSe<tspan font-size="9.6" dy="3.0">2</tspan></text>
<text x="165.20" y="45.50" font-size="13.00" font-weight="bold" fill="#111" text-anchor="start"><tspan>245 cm</tspan><tspan font-size="8.20" dy="-5.00">-1</tspan></text>
<line x1="210.80" y1="60.50" x2="210.80" y2="152.00" stroke="#707070" stroke-width="1.2"/>
<path d="M210.8,54.2 L207.4,61.2 L214.2,61.2 Z" fill="#111"/>
<text x="113.6" y="58.3" font-size="15.4" fill="rgb(28,28,210)">A<tspan font-size="11.6" dy="4.0">1g</tspan></text>
<text x="99.60" y="75.10" font-size="12.80" font-weight="bold" fill="rgb(28,28,210)" text-anchor="start"><tspan>200 cm</tspan><tspan font-size="8.00" dy="-4.90">-1</tspan></text>
<line x1="150.50" y1="57.70" x2="176.00" y2="57.70" stroke="rgb(60,60,225)" stroke-width="1.3"/>
<path d="M144.6,57.7 L151.8,54.2 L151.8,61.2 Z" fill="rgb(28,28,210)"/>
<text x="127.9" y="110.0" font-size="16.4" fill="rgb(28,28,210)">E<tspan font-size="11.8" dy="3.8">g</tspan></text>
<text x="112.20" y="126.90" font-size="12.70" font-weight="bold" fill="rgb(28,28,210)" text-anchor="start"><tspan>132 cm</tspan><tspan font-size="8.00" dy="-4.90">-1</tspan></text>
<line x1="138.75" y1="137.50" x2="138.75" y2="148.50" stroke="rgb(110,110,230)" stroke-width="1.2"/>
<path d="M138.75,132.4 L135.2,138.6 L142.3,138.6 Z" fill="rgb(28,28,210)"/>
<text x="231.70" y="165.60" font-size="14.20" text-anchor="start" font-weight="bold" fill="#000">265 K</text>
<text x="230.60" y="199.00" font-size="14.20" text-anchor="start" font-weight="bold" fill="#000">230 K</text>
<text x="231.20" y="230.50" font-size="14.20" text-anchor="start" font-weight="bold" fill="#000">200 K</text>
<text x="229.90" y="259.00" font-size="14.20" text-anchor="start" font-weight="bold" fill="#000">170 K</text>
<text x="229.40" y="289.00" font-size="14.20" text-anchor="start" font-weight="bold" fill="#000">140 K</text>
<text x="230.70" y="321.80" font-size="14.20" text-anchor="start" font-weight="bold" fill="#000">110 K</text>
<text x="231.80" y="352.30" font-size="14.20" text-anchor="start" font-weight="bold" fill="#000">90 K</text>
<text x="231.80" y="383.10" font-size="14.20" text-anchor="start" font-weight="bold" fill="#000">70 K</text>
<text x="233.90" y="413.10" font-size="14.20" text-anchor="start" font-weight="bold" fill="#000">50 K</text>
<text x="232.00" y="442.60" font-size="14.20" text-anchor="start" font-weight="bold" fill="#000">30 K</text>
<text x="231.90" y="473.30" font-size="14.20" text-anchor="start" font-weight="bold" fill="#000">20 K</text>
<text x="231.90" y="505.90" font-size="14.20" text-anchor="start" font-weight="bold" fill="#000">10 K</text>
<text x="234.20" y="536.00" font-size="14.20" text-anchor="start" font-weight="bold" fill="#000">5 K</text>
<line x1="344.40" y1="251.05" x2="347.40" y2="251.05" stroke="#262626" stroke-width="1.1"/>
<line x1="344.40" y1="241.68" x2="347.40" y2="241.68" stroke="#262626" stroke-width="1.1"/>
<line x1="342.40" y1="232.30" x2="347.40" y2="232.30" stroke="#262626" stroke-width="1.1"/>
<text x="338.90" y="237.90" font-size="15.20" text-anchor="end" fill="#111" textLength="32.70" lengthAdjust="spacingAndGlyphs">−10</text>
<line x1="344.40" y1="222.93" x2="347.40" y2="222.93" stroke="#262626" stroke-width="1.1"/>
<line x1="344.40" y1="213.55" x2="347.40" y2="213.55" stroke="#262626" stroke-width="1.1"/>
<line x1="344.40" y1="204.18" x2="347.40" y2="204.18" stroke="#262626" stroke-width="1.1"/>
<line x1="342.40" y1="194.80" x2="347.40" y2="194.80" stroke="#262626" stroke-width="1.1"/>
<text x="338.90" y="200.40" font-size="15.20" text-anchor="end" fill="#111" textLength="23.70" lengthAdjust="spacingAndGlyphs">−8</text>
<line x1="344.40" y1="185.43" x2="347.40" y2="185.43" stroke="#262626" stroke-width="1.1"/>
<line x1="344.40" y1="176.05" x2="347.40" y2="176.05" stroke="#262626" stroke-width="1.1"/>
<line x1="344.40" y1="166.68" x2="347.40" y2="166.68" stroke="#262626" stroke-width="1.1"/>
<line x1="342.40" y1="157.30" x2="347.40" y2="157.30" stroke="#262626" stroke-width="1.1"/>
<text x="338.90" y="162.90" font-size="15.20" text-anchor="end" fill="#111" textLength="23.70" lengthAdjust="spacingAndGlyphs">−6</text>
<line x1="344.40" y1="147.93" x2="347.40" y2="147.93" stroke="#262626" stroke-width="1.1"/>
<line x1="344.40" y1="138.55" x2="347.40" y2="138.55" stroke="#262626" stroke-width="1.1"/>
<line x1="344.40" y1="129.18" x2="347.40" y2="129.18" stroke="#262626" stroke-width="1.1"/>
<line x1="342.40" y1="119.80" x2="347.40" y2="119.80" stroke="#262626" stroke-width="1.1"/>
<text x="338.90" y="125.40" font-size="15.20" text-anchor="end" fill="#111" textLength="23.70" lengthAdjust="spacingAndGlyphs">−4</text>
<line x1="344.40" y1="110.42" x2="347.40" y2="110.42" stroke="#262626" stroke-width="1.1"/>
<line x1="344.40" y1="101.05" x2="347.40" y2="101.05" stroke="#262626" stroke-width="1.1"/>
<line x1="344.40" y1="91.67" x2="347.40" y2="91.67" stroke="#262626" stroke-width="1.1"/>
<line x1="342.40" y1="82.30" x2="347.40" y2="82.30" stroke="#262626" stroke-width="1.1"/>
<text x="338.90" y="87.90" font-size="15.20" text-anchor="end" fill="#111" textLength="23.70" lengthAdjust="spacingAndGlyphs">−2</text>
<line x1="344.40" y1="72.92" x2="347.40" y2="72.92" stroke="#262626" stroke-width="1.1"/>
<line x1="344.40" y1="63.55" x2="347.40" y2="63.55" stroke="#262626" stroke-width="1.1"/>
<line x1="344.40" y1="54.17" x2="347.40" y2="54.17" stroke="#262626" stroke-width="1.1"/>
<line x1="342.40" y1="44.80" x2="347.40" y2="44.80" stroke="#262626" stroke-width="1.1"/>
<text x="338.90" y="50.40" font-size="15.20" text-anchor="end" fill="#111" textLength="8.90" lengthAdjust="spacingAndGlyphs">0</text>
<line x1="344.40" y1="35.42" x2="347.40" y2="35.42" stroke="#262626" stroke-width="1.1"/>
<line x1="344.40" y1="26.05" x2="347.40" y2="26.05" stroke="#262626" stroke-width="1.1"/>
<line x1="344.40" y1="16.67" x2="347.40" y2="16.67" stroke="#262626" stroke-width="1.1"/>
<line x1="342.40" y1="7.30" x2="347.40" y2="7.30" stroke="#262626" stroke-width="1.1"/>
<text x="338.90" y="12.90" font-size="15.20" text-anchor="end" fill="#111" textLength="8.90" lengthAdjust="spacingAndGlyphs">2</text>
<line x1="347.40" y1="251.30" x2="347.40" y2="256.30" stroke="#262626" stroke-width="1.1"/>
<text x="347.40" y="271.60" font-size="15.20" text-anchor="middle" fill="#111" textLength="8.60" lengthAdjust="spacingAndGlyphs">0</text>
<line x1="357.85" y1="251.30" x2="357.85" y2="254.30" stroke="#262626" stroke-width="1.1"/>
<line x1="368.29" y1="251.30" x2="368.29" y2="254.30" stroke="#262626" stroke-width="1.1"/>
<line x1="378.74" y1="251.30" x2="378.74" y2="254.30" stroke="#262626" stroke-width="1.1"/>
<line x1="389.18" y1="251.30" x2="389.18" y2="254.30" stroke="#262626" stroke-width="1.1"/>
<line x1="399.63" y1="251.30" x2="399.63" y2="256.30" stroke="#262626" stroke-width="1.1"/>
<text x="399.63" y="271.60" font-size="15.20" text-anchor="middle" fill="#111" textLength="29.90" lengthAdjust="spacingAndGlyphs">100</text>
<line x1="410.08" y1="251.30" x2="410.08" y2="254.30" stroke="#262626" stroke-width="1.1"/>
<line x1="420.52" y1="251.30" x2="420.52" y2="254.30" stroke="#262626" stroke-width="1.1"/>
<line x1="430.97" y1="251.30" x2="430.97" y2="254.30" stroke="#262626" stroke-width="1.1"/>
<line x1="441.41" y1="251.30" x2="441.41" y2="254.30" stroke="#262626" stroke-width="1.1"/>
<line x1="451.86" y1="251.30" x2="451.86" y2="256.30" stroke="#262626" stroke-width="1.1"/>
<text x="451.86" y="271.60" font-size="15.20" text-anchor="middle" fill="#111" textLength="29.90" lengthAdjust="spacingAndGlyphs">200</text>
<line x1="462.31" y1="251.30" x2="462.31" y2="254.30" stroke="#262626" stroke-width="1.1"/>
<line x1="472.75" y1="251.30" x2="472.75" y2="254.30" stroke="#262626" stroke-width="1.1"/>
<line x1="483.20" y1="251.30" x2="483.20" y2="254.30" stroke="#262626" stroke-width="1.1"/>
<line x1="493.64" y1="251.30" x2="493.64" y2="254.30" stroke="#262626" stroke-width="1.1"/>
<line x1="504.09" y1="251.30" x2="504.09" y2="256.30" stroke="#262626" stroke-width="1.1"/>
<text x="504.09" y="271.60" font-size="15.20" text-anchor="middle" fill="#111" textLength="29.90" lengthAdjust="spacingAndGlyphs">300</text>
<text transform="translate(299.5,240.9) rotate(-90)" x="0" y="0" font-size="17.2" fill="#111"><tspan textLength="200.7" lengthAdjust="spacingAndGlyphs">Relative Mode shift (cm</tspan><tspan font-size="11.8" dy="-7" textLength="17.4" lengthAdjust="spacingAndGlyphs">−1</tspan><tspan dy="7">)</tspan></text>
<line x1="350.01" y1="31.30" x2="350.01" y2="59.00" stroke="rgb(215,190,130)" stroke-width="0.9"/><line x1="347.81" y1="31.30" x2="352.21" y2="31.30" stroke="rgb(215,190,130)" stroke-width="0.9"/><line x1="347.81" y1="59.00" x2="352.21" y2="59.00" stroke="rgb(215,190,130)" stroke-width="0.9"/>
<line x1="352.62" y1="35.00" x2="352.62" y2="63.50" stroke="rgb(215,190,130)" stroke-width="0.9"/><line x1="350.42" y1="35.00" x2="354.82" y2="35.00" stroke="rgb(215,190,130)" stroke-width="0.9"/><line x1="350.42" y1="63.50" x2="354.82" y2="63.50" stroke="rgb(215,190,130)" stroke-width="0.9"/>
<line x1="357.85" y1="47.00" x2="357.85" y2="68.00" stroke="rgb(215,190,130)" stroke-width="0.9"/><line x1="355.65" y1="47.00" x2="360.05" y2="47.00" stroke="rgb(215,190,130)" stroke-width="0.9"/><line x1="355.65" y1="68.00" x2="360.05" y2="68.00" stroke="rgb(215,190,130)" stroke-width="0.9"/>
<line x1="363.07" y1="58.20" x2="363.07" y2="85.70" stroke="rgb(215,190,130)" stroke-width="0.9"/><line x1="360.87" y1="58.20" x2="365.27" y2="58.20" stroke="rgb(215,190,130)" stroke-width="0.9"/><line x1="360.87" y1="85.70" x2="365.27" y2="85.70" stroke="rgb(215,190,130)" stroke-width="0.9"/>
<line x1="373.51" y1="78.50" x2="373.51" y2="119.70" stroke="rgb(215,190,130)" stroke-width="0.9"/><line x1="371.31" y1="78.50" x2="375.71" y2="78.50" stroke="rgb(215,190,130)" stroke-width="0.9"/><line x1="371.31" y1="119.70" x2="375.71" y2="119.70" stroke="rgb(215,190,130)" stroke-width="0.9"/>
<line x1="383.96" y1="123.30" x2="383.96" y2="173.20" stroke="rgb(215,190,130)" stroke-width="0.9"/><line x1="381.76" y1="123.30" x2="386.16" y2="123.30" stroke="rgb(215,190,130)" stroke-width="0.9"/><line x1="381.76" y1="173.20" x2="386.16" y2="173.20" stroke="rgb(215,190,130)" stroke-width="0.9"/>
<line x1="394.41" y1="155.00" x2="394.41" y2="239.00" stroke="rgb(215,190,130)" stroke-width="0.9"/><line x1="392.21" y1="155.00" x2="396.61" y2="155.00" stroke="rgb(215,190,130)" stroke-width="0.9"/><line x1="392.21" y1="239.00" x2="396.61" y2="239.00" stroke="rgb(215,190,130)" stroke-width="0.9"/>
<line x1="350.01" y1="36.00" x2="350.01" y2="54.00" stroke="rgb(195,130,235)" stroke-width="0.9"/><line x1="347.81" y1="36.00" x2="352.21" y2="36.00" stroke="rgb(195,130,235)" stroke-width="0.9"/><line x1="347.81" y1="54.00" x2="352.21" y2="54.00" stroke="rgb(195,130,235)" stroke-width="0.9"/>
<line x1="352.62" y1="38.00" x2="352.62" y2="57.00" stroke="rgb(195,130,235)" stroke-width="0.9"/><line x1="350.42" y1="38.00" x2="354.82" y2="38.00" stroke="rgb(195,130,235)" stroke-width="0.9"/><line x1="350.42" y1="57.00" x2="354.82" y2="57.00" stroke="rgb(195,130,235)" stroke-width="0.9"/>
<line x1="357.85" y1="45.00" x2="357.85" y2="62.00" stroke="rgb(195,130,235)" stroke-width="0.9"/><line x1="355.65" y1="45.00" x2="360.05" y2="45.00" stroke="rgb(195,130,235)" stroke-width="0.9"/><line x1="355.65" y1="62.00" x2="360.05" y2="62.00" stroke="rgb(195,130,235)" stroke-width="0.9"/>
<line x1="363.07" y1="50.00" x2="363.07" y2="66.00" stroke="rgb(195,130,235)" stroke-width="0.9"/><line x1="360.87" y1="50.00" x2="365.27" y2="50.00" stroke="rgb(195,130,235)" stroke-width="0.9"/><line x1="360.87" y1="66.00" x2="365.27" y2="66.00" stroke="rgb(195,130,235)" stroke-width="0.9"/>
<line x1="373.51" y1="86.90" x2="373.51" y2="109.00" stroke="rgb(195,130,235)" stroke-width="0.9"/><line x1="371.31" y1="86.90" x2="375.71" y2="86.90" stroke="rgb(195,130,235)" stroke-width="0.9"/><line x1="371.31" y1="109.00" x2="375.71" y2="109.00" stroke="rgb(195,130,235)" stroke-width="0.9"/>
<line x1="383.96" y1="100.60" x2="383.96" y2="133.20" stroke="rgb(195,130,235)" stroke-width="0.9"/><line x1="381.76" y1="100.60" x2="386.16" y2="100.60" stroke="rgb(195,130,235)" stroke-width="0.9"/><line x1="381.76" y1="133.20" x2="386.16" y2="133.20" stroke="rgb(195,130,235)" stroke-width="0.9"/>
<line x1="394.41" y1="123.40" x2="394.41" y2="194.00" stroke="rgb(195,130,235)" stroke-width="0.9"/><line x1="392.21" y1="123.40" x2="396.61" y2="123.40" stroke="rgb(195,130,235)" stroke-width="0.9"/><line x1="392.21" y1="194.00" x2="396.61" y2="194.00" stroke="rgb(195,130,235)" stroke-width="0.9"/>
<path d="M350.01,44.80 L352.62,50.50 L357.85,58.00 L363.07,71.00 L373.51,100.00 L383.96,143.50 L394.41,180.60" fill="none" stroke="rgb(205,170,90)" stroke-width="0.95" stroke-linejoin="round"/>
<path d="M353.61,44.80 L351.81,47.92 L348.21,47.92 L346.41,44.80 L348.21,41.68 L351.81,41.68 Z" fill="rgb(200,158,40)"/>
<path d="M356.22,50.50 L354.42,53.62 L350.82,53.62 L349.02,50.50 L350.82,47.38 L354.42,47.38 Z" fill="rgb(200,158,40)"/>
<path d="M361.45,58.00 L359.65,61.12 L356.05,61.12 L354.25,58.00 L356.05,54.88 L359.65,54.88 Z" fill="rgb(200,158,40)"/>
<path d="M366.67,71.00 L364.87,74.12 L361.27,74.12 L359.47,71.00 L361.27,67.88 L364.87,67.88 Z" fill="rgb(200,158,40)"/>
<path d="M377.12,100.00 L375.31,103.12 L371.71,103.12 L369.91,100.00 L371.71,96.88 L375.31,96.88 Z" fill="rgb(200,158,40)"/>
<path d="M387.56,143.50 L385.76,146.62 L382.16,146.62 L380.36,143.50 L382.16,140.38 L385.76,140.38 Z" fill="rgb(200,158,40)"/>
<path d="M398.01,180.60 L396.21,183.72 L392.61,183.72 L390.81,180.60 L392.61,177.48 L396.21,177.48 Z" fill="rgb(200,158,40)"/>
<path d="M350.01,44.80 L352.62,47.80 L357.85,53.30 L363.07,57.60 L373.51,98.40 L383.96,116.80 L394.41,158.80" fill="none" stroke="rgb(165,60,215)" stroke-width="0.95" stroke-linejoin="round"/>
<path d="M350.01,40.30 L354.51,44.80 L350.01,49.30 L345.51,44.80 Z" fill="rgb(155,0,195)"/>
<path d="M352.62,43.30 L357.12,47.80 L352.62,52.30 L348.12,47.80 Z" fill="rgb(155,0,195)"/>
<path d="M357.85,48.80 L362.35,53.30 L357.85,57.80 L353.35,53.30 Z" fill="rgb(155,0,195)"/>
<path d="M363.07,53.10 L367.57,57.60 L363.07,62.10 L358.57,57.60 Z" fill="rgb(155,0,195)"/>
<path d="M373.51,93.90 L378.01,98.40 L373.51,102.90 L369.01,98.40 Z" fill="rgb(155,0,195)"/>
<path d="M383.96,112.30 L388.46,116.80 L383.96,121.30 L379.46,116.80 Z" fill="rgb(155,0,195)"/>
<path d="M394.41,154.30 L398.91,158.80 L394.41,163.30 L389.91,158.80 Z" fill="rgb(155,0,195)"/>
<path d="M350.01,44.80 L352.62,47.60 L357.85,48.30 L363.07,48.90 L373.51,53.50 L383.96,57.70 L394.41,65.50 L404.85,71.50 L412.69,76.50 L420.52,84.30 L428.36,91.50 L436.19,99.20 L444.03,107.00 L451.86,114.00 L459.69,117.90 L467.53,122.70 L475.36,130.80 L483.20,140.00 L493.64,148.00" fill="none" stroke="rgb(72,132,30)" stroke-width="1.0" stroke-linejoin="round"/>
<rect x="346.61" y="41.40" width="6.8" height="6.8" fill="rgb(72,132,30)"/>
<rect x="349.22" y="44.20" width="6.8" height="6.8" fill="rgb(72,132,30)"/>
<rect x="354.45" y="44.90" width="6.8" height="6.8" fill="rgb(72,132,30)"/>
<rect x="359.67" y="45.50" width="6.8" height="6.8" fill="rgb(72,132,30)"/>
<rect x="370.12" y="50.10" width="6.8" height="6.8" fill="rgb(72,132,30)"/>
<rect x="380.56" y="54.30" width="6.8" height="6.8" fill="rgb(72,132,30)"/>
<rect x="391.01" y="62.10" width="6.8" height="6.8" fill="rgb(72,132,30)"/>
<rect x="401.45" y="68.10" width="6.8" height="6.8" fill="rgb(72,132,30)"/>
<rect x="409.29" y="73.10" width="6.8" height="6.8" fill="rgb(72,132,30)"/>
<rect x="417.12" y="80.90" width="6.8" height="6.8" fill="rgb(72,132,30)"/>
<rect x="424.96" y="88.10" width="6.8" height="6.8" fill="rgb(72,132,30)"/>
<rect x="432.79" y="95.80" width="6.8" height="6.8" fill="rgb(72,132,30)"/>
<rect x="440.63" y="103.60" width="6.8" height="6.8" fill="rgb(72,132,30)"/>
<rect x="448.46" y="110.60" width="6.8" height="6.8" fill="rgb(72,132,30)"/>
<rect x="456.29" y="114.50" width="6.8" height="6.8" fill="rgb(72,132,30)"/>
<rect x="464.13" y="119.30" width="6.8" height="6.8" fill="rgb(72,132,30)"/>
<rect x="471.96" y="127.40" width="6.8" height="6.8" fill="rgb(72,132,30)"/>
<rect x="479.80" y="136.60" width="6.8" height="6.8" fill="rgb(72,132,30)"/>
<rect x="490.24" y="144.60" width="6.8" height="6.8" fill="rgb(72,132,30)"/>
<path d="M347.66,44.80 L348.97,44.80 L350.27,44.80 L351.58,44.80 L352.88,44.80 L354.19,44.80 L355.50,44.80 L356.80,44.81 L358.11,44.83 L359.41,44.88 L360.72,44.95 L362.02,45.06 L363.33,45.22 L364.64,45.43 L365.94,45.69 L367.25,46.00 L368.55,46.37 L369.86,46.78 L371.16,47.25 L372.47,47.76 L373.78,48.31 L375.08,48.91 L376.39,49.54 L377.69,50.21 L379.00,50.91 L380.30,51.65 L381.61,52.41 L382.92,53.20 L384.22,54.02 L385.53,54.86 L386.83,55.72 L388.14,56.60 L389.45,57.49 L390.75,58.41 L392.06,59.34 L393.36,60.29 L394.67,61.25 L395.97,62.23 L397.28,63.22 L398.59,64.22 L399.89,65.23 L401.20,66.25 L402.50,67.28 L403.81,68.32 L405.11,69.37 L406.42,70.42 L407.73,71.49 L409.03,72.56 L410.34,73.63 L411.64,74.72 L412.95,75.81 L414.25,76.90 L415.56,78.01 L416.87,79.11 L418.17,80.22 L419.48,81.34 L420.78,82.46 L422.09,83.58 L423.39,84.71 L424.70,85.84 L426.01,86.98 L427.31,88.12 L428.62,89.26 L429.92,90.41 L431.23,91.56 L432.53,92.71 L433.84,93.87 L435.15,95.02 L436.45,96.18 L437.76,97.35 L439.06,98.51 L440.37,99.68 L441.68,100.85 L442.98,102.02 L444.29,103.19 L445.59,104.37 L446.90,105.55 L448.20,106.73 L449.51,107.91 L450.82,109.09 L452.12,110.27 L453.43,111.46 L454.73,112.65 L456.04,113.84 L457.34,115.03 L458.65,116.22 L459.96,117.41 L461.26,118.60 L462.57,119.80 L463.87,121.00 L465.18,122.19 L466.48,123.39 L467.79,124.59 L469.10,125.79 L470.40,126.99 L471.71,128.20 L473.01,129.40 L474.32,130.60 L475.62,131.81 L476.93,133.02 L478.24,134.22 L479.54,135.43 L480.85,136.64 L482.15,137.85 L483.46,139.06 L484.76,140.27 L486.07,141.48 L487.38,142.70 L488.68,143.91 L489.99,145.12 L491.29,146.34 L492.60,147.55 L493.91,148.77 L495.21,149.98" fill="none" stroke="#000" stroke-width="1.8" stroke-linejoin="round"/>
<path d="M350.01,45.00 L352.62,44.20 L357.85,42.60 L363.07,44.60 L373.51,47.10 L383.96,49.20 L394.41,45.70 L404.85,46.80 L412.69,47.70 L420.52,41.30 L428.36,52.80 L436.19,30.40 L444.03,41.60 L451.86,41.60 L459.69,41.10 L467.53,40.80 L475.36,58.40 L483.20,62.40 L493.64,77.10" fill="none" stroke="rgb(228,10,16)" stroke-width="1.0" stroke-linejoin="round"/>
<circle cx="350.01" cy="45.00" r="3.45" fill="rgb(228,10,16)"/>
<circle cx="352.62" cy="44.20" r="3.45" fill="rgb(228,10,16)"/>
<circle cx="357.85" cy="42.60" r="3.45" fill="rgb(228,10,16)"/>
<circle cx="363.07" cy="44.60" r="3.45" fill="rgb(228,10,16)"/>
<circle cx="373.51" cy="47.10" r="3.45" fill="rgb(228,10,16)"/>
<circle cx="383.96" cy="49.20" r="3.45" fill="rgb(228,10,16)"/>
<circle cx="394.41" cy="45.70" r="3.45" fill="rgb(228,10,16)"/>
<circle cx="404.85" cy="46.80" r="3.45" fill="rgb(228,10,16)"/>
<circle cx="412.69" cy="47.70" r="3.45" fill="rgb(228,10,16)"/>
<circle cx="420.52" cy="41.30" r="3.45" fill="rgb(228,10,16)"/>
<circle cx="428.36" cy="52.80" r="3.45" fill="rgb(228,10,16)"/>
<circle cx="436.19" cy="30.40" r="3.45" fill="rgb(228,10,16)"/>
<circle cx="444.03" cy="41.60" r="3.45" fill="rgb(228,10,16)"/>
<circle cx="451.86" cy="41.60" r="3.45" fill="rgb(228,10,16)"/>
<circle cx="459.69" cy="41.10" r="3.45" fill="rgb(228,10,16)"/>
<circle cx="467.53" cy="40.80" r="3.45" fill="rgb(228,10,16)"/>
<circle cx="475.36" cy="58.40" r="3.45" fill="rgb(228,10,16)"/>
<circle cx="483.20" cy="62.40" r="3.45" fill="rgb(228,10,16)"/>
<circle cx="493.64" cy="77.10" r="3.45" fill="rgb(228,10,16)"/>
<rect x="347.4" y="7.5" width="156.70" height="243.80" fill="none" stroke="#262626" stroke-width="1.3"/>
<text x="407.90" y="23.50" font-size="13.90" font-weight="bold" fill="rgb(215,15,20)" text-anchor="start"><tspan>132 cm</tspan><tspan font-size="8.80" dy="-5.40">-1</tspan></text>
<text x="411.80" y="138.00" font-size="13.80" font-weight="bold" fill="rgb(75,125,40)" text-anchor="start"><tspan>200 cm</tspan><tspan font-size="8.80" dy="-5.40">-1</tspan></text>
<text x="401.00" y="164.90" font-size="13.70" font-weight="bold" fill="rgb(155,0,195)" text-anchor="start"><tspan>70 cm</tspan><tspan font-size="8.80" dy="-5.40">-1</tspan></text>
<text x="367.80" y="199.50" font-size="13.70" font-weight="bold" fill="rgb(200,160,75)" text-anchor="start"><tspan>108 cm</tspan><tspan font-size="8.80" dy="-5.40">-1</tspan></text>
<text x="471.50" y="30.00" font-size="21.50" text-anchor="start" font-weight="bold" fill="#000">(b)</text>
<line x1="413.10" y1="239.80" x2="423.30" y2="239.80" stroke="#000" stroke-width="2.6"/>
<text x="428.40" y="243.00" font-size="14.40" text-anchor="start" font-weight="bold" fill="#000">Eq. (1) Fit</text>
<line x1="342.40" y1="542.30" x2="347.40" y2="542.30" stroke="#262626" stroke-width="1.1"/>
<text x="338.90" y="547.90" font-size="15.20" text-anchor="end" fill="#111" textLength="24.80" lengthAdjust="spacingAndGlyphs">0.0</text>
<line x1="344.40" y1="532.15" x2="347.40" y2="532.15" stroke="#262626" stroke-width="1.1"/>
<line x1="344.40" y1="522.01" x2="347.40" y2="522.01" stroke="#262626" stroke-width="1.1"/>
<line x1="344.40" y1="511.86" x2="347.40" y2="511.86" stroke="#262626" stroke-width="1.1"/>
<line x1="342.40" y1="501.72" x2="347.40" y2="501.72" stroke="#262626" stroke-width="1.1"/>
<text x="338.90" y="507.32" font-size="15.20" text-anchor="end" fill="#111" textLength="24.80" lengthAdjust="spacingAndGlyphs">0.2</text>
<line x1="344.40" y1="491.57" x2="347.40" y2="491.57" stroke="#262626" stroke-width="1.1"/>
<line x1="344.40" y1="481.43" x2="347.40" y2="481.43" stroke="#262626" stroke-width="1.1"/>
<line x1="344.40" y1="471.28" x2="347.40" y2="471.28" stroke="#262626" stroke-width="1.1"/>
<line x1="342.40" y1="461.14" x2="347.40" y2="461.14" stroke="#262626" stroke-width="1.1"/>
<text x="338.90" y="466.74" font-size="15.20" text-anchor="end" fill="#111" textLength="24.80" lengthAdjust="spacingAndGlyphs">0.4</text>
<line x1="344.40" y1="450.99" x2="347.40" y2="450.99" stroke="#262626" stroke-width="1.1"/>
<line x1="344.40" y1="440.85" x2="347.40" y2="440.85" stroke="#262626" stroke-width="1.1"/>
<line x1="344.40" y1="430.70" x2="347.40" y2="430.70" stroke="#262626" stroke-width="1.1"/>
<line x1="342.40" y1="420.56" x2="347.40" y2="420.56" stroke="#262626" stroke-width="1.1"/>
<text x="338.90" y="426.16" font-size="15.20" text-anchor="end" fill="#111" textLength="24.80" lengthAdjust="spacingAndGlyphs">0.6</text>
<line x1="344.40" y1="410.41" x2="347.40" y2="410.41" stroke="#262626" stroke-width="1.1"/>
<line x1="344.40" y1="400.27" x2="347.40" y2="400.27" stroke="#262626" stroke-width="1.1"/>
<line x1="344.40" y1="390.12" x2="347.40" y2="390.12" stroke="#262626" stroke-width="1.1"/>
<line x1="342.40" y1="379.98" x2="347.40" y2="379.98" stroke="#262626" stroke-width="1.1"/>
<text x="338.90" y="385.58" font-size="15.20" text-anchor="end" fill="#111" textLength="24.80" lengthAdjust="spacingAndGlyphs">0.8</text>
<line x1="344.40" y1="369.83" x2="347.40" y2="369.83" stroke="#262626" stroke-width="1.1"/>
<line x1="344.40" y1="359.69" x2="347.40" y2="359.69" stroke="#262626" stroke-width="1.1"/>
<line x1="344.40" y1="349.54" x2="347.40" y2="349.54" stroke="#262626" stroke-width="1.1"/>
<line x1="342.40" y1="339.40" x2="347.40" y2="339.40" stroke="#262626" stroke-width="1.1"/>
<text x="338.90" y="345.00" font-size="15.20" text-anchor="end" fill="#111" textLength="24.80" lengthAdjust="spacingAndGlyphs">1.0</text>
<line x1="344.40" y1="329.25" x2="347.40" y2="329.25" stroke="#262626" stroke-width="1.1"/>
<line x1="344.40" y1="319.11" x2="347.40" y2="319.11" stroke="#262626" stroke-width="1.1"/>
<line x1="344.40" y1="308.96" x2="347.40" y2="308.96" stroke="#262626" stroke-width="1.1"/>
<line x1="342.40" y1="298.82" x2="347.40" y2="298.82" stroke="#262626" stroke-width="1.1"/>
<text x="338.90" y="304.42" font-size="15.20" text-anchor="end" fill="#111" textLength="24.80" lengthAdjust="spacingAndGlyphs">1.2</text>
<line x1="347.40" y1="542.30" x2="347.40" y2="547.30" stroke="#262626" stroke-width="1.1"/>
<text x="347.40" y="563.20" font-size="15.20" text-anchor="middle" fill="#111" textLength="8.60" lengthAdjust="spacingAndGlyphs">0</text>
<line x1="357.85" y1="542.30" x2="357.85" y2="545.30" stroke="#262626" stroke-width="1.1"/>
<line x1="368.29" y1="542.30" x2="368.29" y2="545.30" stroke="#262626" stroke-width="1.1"/>
<line x1="378.74" y1="542.30" x2="378.74" y2="545.30" stroke="#262626" stroke-width="1.1"/>
<line x1="389.18" y1="542.30" x2="389.18" y2="545.30" stroke="#262626" stroke-width="1.1"/>
<line x1="399.63" y1="542.30" x2="399.63" y2="547.30" stroke="#262626" stroke-width="1.1"/>
<text x="399.63" y="563.20" font-size="15.20" text-anchor="middle" fill="#111" textLength="29.90" lengthAdjust="spacingAndGlyphs">100</text>
<line x1="410.08" y1="542.30" x2="410.08" y2="545.30" stroke="#262626" stroke-width="1.1"/>
<line x1="420.52" y1="542.30" x2="420.52" y2="545.30" stroke="#262626" stroke-width="1.1"/>
<line x1="430.97" y1="542.30" x2="430.97" y2="545.30" stroke="#262626" stroke-width="1.1"/>
<line x1="441.41" y1="542.30" x2="441.41" y2="545.30" stroke="#262626" stroke-width="1.1"/>
<line x1="451.86" y1="542.30" x2="451.86" y2="547.30" stroke="#262626" stroke-width="1.1"/>
<text x="451.86" y="563.20" font-size="15.20" text-anchor="middle" fill="#111" textLength="29.90" lengthAdjust="spacingAndGlyphs">200</text>
<line x1="462.31" y1="542.30" x2="462.31" y2="545.30" stroke="#262626" stroke-width="1.1"/>
<line x1="472.75" y1="542.30" x2="472.75" y2="545.30" stroke="#262626" stroke-width="1.1"/>
<line x1="483.20" y1="542.30" x2="483.20" y2="545.30" stroke="#262626" stroke-width="1.1"/>
<line x1="493.64" y1="542.30" x2="493.64" y2="545.30" stroke="#262626" stroke-width="1.1"/>
<line x1="504.09" y1="542.30" x2="504.09" y2="547.30" stroke="#262626" stroke-width="1.1"/>
<text x="504.09" y="563.20" font-size="15.20" text-anchor="middle" fill="#111" textLength="29.90" lengthAdjust="spacingAndGlyphs">300</text>
<text transform="translate(307.6,555.6) rotate(-90)" x="0" y="0" font-size="16.9" fill="#111" textLength="269.4" lengthAdjust="spacingAndGlyphs">Normalized Inte. Intensity (a.u.)</text>
<text x="406.00" y="580.80" font-size="16.60" text-anchor="start" fill="#111" textLength="38.60" lengthAdjust="spacingAndGlyphs">T (K)</text>
<line x1="452.80" y1="299.50" x2="452.80" y2="359.00" stroke="rgb(225,0,225)" stroke-width="2.0" stroke-dasharray="1.6,1.7"/>
<line x1="452.80" y1="400.00" x2="452.80" y2="541.50" stroke="rgb(225,0,225)" stroke-width="2.0" stroke-dasharray="1.6,1.7"/>
<path d="M350.01,384.90 L352.62,340.00 L357.85,366.00 L363.07,346.00 L373.51,370.00 L383.96,396.90 L394.41,397.80 L404.85,452.40 L412.69,445.60 L420.52,477.80 L428.36,465.50 L436.19,497.50 L444.03,499.60 L451.86,507.40 L459.69,500.60 L467.53,515.20 L475.36,523.30 L483.20,524.40 L493.64,522.00" fill="none" stroke="rgb(80,138,38)" stroke-width="1.0" stroke-linejoin="round"/>
<path d="M350.01,380.90 L354.01,384.90 L350.01,388.90 L346.01,384.90 Z" fill="rgb(80,138,38)"/>
<path d="M352.62,336.00 L356.62,340.00 L352.62,344.00 L348.62,340.00 Z" fill="rgb(80,138,38)"/>
<path d="M357.85,362.00 L361.85,366.00 L357.85,370.00 L353.85,366.00 Z" fill="rgb(80,138,38)"/>
<path d="M363.07,342.00 L367.07,346.00 L363.07,350.00 L359.07,346.00 Z" fill="rgb(80,138,38)"/>
<path d="M373.51,366.00 L377.51,370.00 L373.51,374.00 L369.51,370.00 Z" fill="rgb(80,138,38)"/>
<path d="M383.96,392.90 L387.96,396.90 L383.96,400.90 L379.96,396.90 Z" fill="rgb(80,138,38)"/>
<path d="M394.41,393.80 L398.41,397.80 L394.41,401.80 L390.41,397.80 Z" fill="rgb(80,138,38)"/>
<path d="M404.85,448.40 L408.85,452.40 L404.85,456.40 L400.85,452.40 Z" fill="rgb(80,138,38)"/>
<path d="M412.69,441.60 L416.69,445.60 L412.69,449.60 L408.69,445.60 Z" fill="rgb(80,138,38)"/>
<path d="M420.52,473.80 L424.52,477.80 L420.52,481.80 L416.52,477.80 Z" fill="rgb(80,138,38)"/>
<path d="M428.36,461.50 L432.36,465.50 L428.36,469.50 L424.36,465.50 Z" fill="rgb(80,138,38)"/>
<path d="M436.19,493.50 L440.19,497.50 L436.19,501.50 L432.19,497.50 Z" fill="rgb(80,138,38)"/>
<path d="M444.03,495.60 L448.03,499.60 L444.03,503.60 L440.03,499.60 Z" fill="rgb(80,138,38)"/>
<path d="M451.86,503.40 L455.86,507.40 L451.86,511.40 L447.86,507.40 Z" fill="rgb(140,150,120)"/>
<path d="M459.69,496.60 L463.69,500.60 L459.69,504.60 L455.69,500.60 Z" fill="rgb(80,138,38)"/>
<path d="M467.53,511.20 L471.53,515.20 L467.53,519.20 L463.53,515.20 Z" fill="rgb(80,138,38)"/>
<path d="M475.36,519.30 L479.36,523.30 L475.36,527.30 L471.36,523.30 Z" fill="rgb(80,138,38)"/>
<path d="M483.20,520.40 L487.20,524.40 L483.20,528.40 L479.20,524.40 Z" fill="rgb(80,138,38)"/>
<path d="M493.64,518.00 L497.64,522.00 L493.64,526.00 L489.64,522.00 Z" fill="rgb(80,138,38)"/>
<path d="M347.40,355.70 L348.15,355.78 L349.16,355.85 L350.37,355.93 L351.70,356.04 L353.10,356.18 L354.49,356.38 L355.81,356.65 L357.00,357.00 L358.08,357.42 L359.14,357.91 L360.16,358.45 L361.16,359.05 L362.14,359.71 L363.11,360.42 L364.06,361.18 L365.00,362.00 L365.92,362.85 L366.80,363.73 L367.65,364.65 L368.50,365.62 L369.35,366.68 L370.20,367.84 L371.08,369.10 L372.00,370.50 L372.94,372.04 L373.88,373.71 L374.84,375.50 L375.81,377.38 L376.81,379.33 L377.84,381.35 L378.90,383.41 L380.00,385.50 L381.12,387.58 L382.24,389.67 L383.38,391.79 L384.56,393.97 L385.80,396.25 L387.10,398.66 L388.50,401.23 L390.00,404.00 L391.64,407.01 L393.40,410.25 L395.26,413.68 L397.19,417.22 L399.16,420.83 L401.13,424.45 L403.09,428.02 L405.00,431.50 L406.88,434.90 L408.75,438.29 L410.62,441.66 L412.50,445.03 L414.38,448.40 L416.25,451.76 L418.12,455.13 L420.00,458.50 L421.86,461.87 L423.69,465.22 L425.52,468.57 L427.34,471.92 L429.19,475.28 L431.07,478.66 L433.01,482.06 L435.00,485.50 L437.19,489.17 L439.61,493.15 L442.15,497.26 L444.69,501.34 L447.11,505.20 L449.30,508.68 L451.13,511.61 L452.50,513.80" fill="none" stroke="#000" stroke-width="2.1" stroke-linejoin="round"/>
<path d="M350.01,353.90 L352.62,339.00 L357.85,353.90 L363.07,345.30 L373.51,353.70 L383.96,355.10 L394.41,342.60 L404.85,378.70 L412.69,372.30 L420.52,386.10 L428.36,365.50 L436.19,386.70 L444.03,375.50 L451.86,382.90 L459.69,378.70 L467.53,380.30 L475.36,351.80 L483.20,344.80 L493.64,363.20" fill="none" stroke="rgb(20,20,230)" stroke-width="1.0" stroke-linejoin="round"/>
<rect x="346.71" y="350.60" width="6.6" height="6.6" fill="rgb(20,20,230)"/>
<circle cx="352.62" cy="339.00" r="3.6" fill="rgb(20,20,230)"/>
<rect x="354.55" y="350.60" width="6.6" height="6.6" fill="rgb(20,20,230)"/>
<rect x="359.77" y="342.00" width="6.6" height="6.6" fill="rgb(20,20,230)"/>
<rect x="370.21" y="350.40" width="6.6" height="6.6" fill="rgb(20,20,230)"/>
<rect x="380.66" y="351.80" width="6.6" height="6.6" fill="rgb(20,20,230)"/>
<rect x="391.11" y="339.30" width="6.6" height="6.6" fill="rgb(20,20,230)"/>
<rect x="401.55" y="375.40" width="6.6" height="6.6" fill="rgb(20,20,230)"/>
<rect x="409.39" y="369.00" width="6.6" height="6.6" fill="rgb(20,20,230)"/>
<rect x="417.22" y="382.80" width="6.6" height="6.6" fill="rgb(20,20,230)"/>
<rect x="425.06" y="362.20" width="6.6" height="6.6" fill="rgb(20,20,230)"/>
<rect x="432.89" y="383.40" width="6.6" height="6.6" fill="rgb(20,20,230)"/>
<rect x="440.73" y="372.20" width="6.6" height="6.6" fill="rgb(20,20,230)"/>
<rect x="448.56" y="379.60" width="6.6" height="6.6" fill="rgb(20,20,230)"/>
<rect x="456.39" y="375.40" width="6.6" height="6.6" fill="rgb(20,20,230)"/>
<rect x="464.23" y="377.00" width="6.6" height="6.6" fill="rgb(20,20,230)"/>
<rect x="472.06" y="348.50" width="6.6" height="6.6" fill="rgb(20,20,230)"/>
<rect x="479.90" y="341.50" width="6.6" height="6.6" fill="rgb(20,20,230)"/>
<rect x="490.34" y="359.90" width="6.6" height="6.6" fill="rgb(20,20,230)"/>
<rect x="347.4" y="298.8" width="156.90" height="243.50" fill="none" stroke="#262626" stroke-width="1.3"/>
<text x="355.60" y="313.90" font-size="13.90" text-anchor="start" font-weight="bold" fill="rgb(20,20,230)">Non-CDW</text>
<text x="355.70" y="328.50" font-size="12.75" font-weight="bold" fill="rgb(20,20,230)" text-anchor="start"><tspan>(120 - 230 cm</tspan><tspan font-size="8.10" dy="-4.90">-1</tspan><tspan font-size="12.75" dy="4.90">)</tspan></text>
<text x="352.20" y="498.50" font-size="12.90" text-anchor="start" font-weight="bold" fill="rgb(80,138,38)">CDW</text>
<text x="351.20" y="514.60" font-size="12.90" font-weight="bold" fill="rgb(80,138,38)" text-anchor="start"><tspan>(50 - 118 cm</tspan><tspan font-size="8.20" dy="-5.00">-1</tspan><tspan font-size="12.90" dy="5.00">)</tspan></text>
<line x1="351.90" y1="531.20" x2="360.70" y2="531.20" stroke="#000" stroke-width="2.6"/>
<text x="365.60" y="536.50" font-size="13.20" text-anchor="start" font-weight="bold" fill="#000">Eq. (2) Fit</text>
<text x="472.60" y="321.50" font-size="21.00" text-anchor="start" font-weight="bold" fill="#000">(c)</text>
</svg>
</body></html>
